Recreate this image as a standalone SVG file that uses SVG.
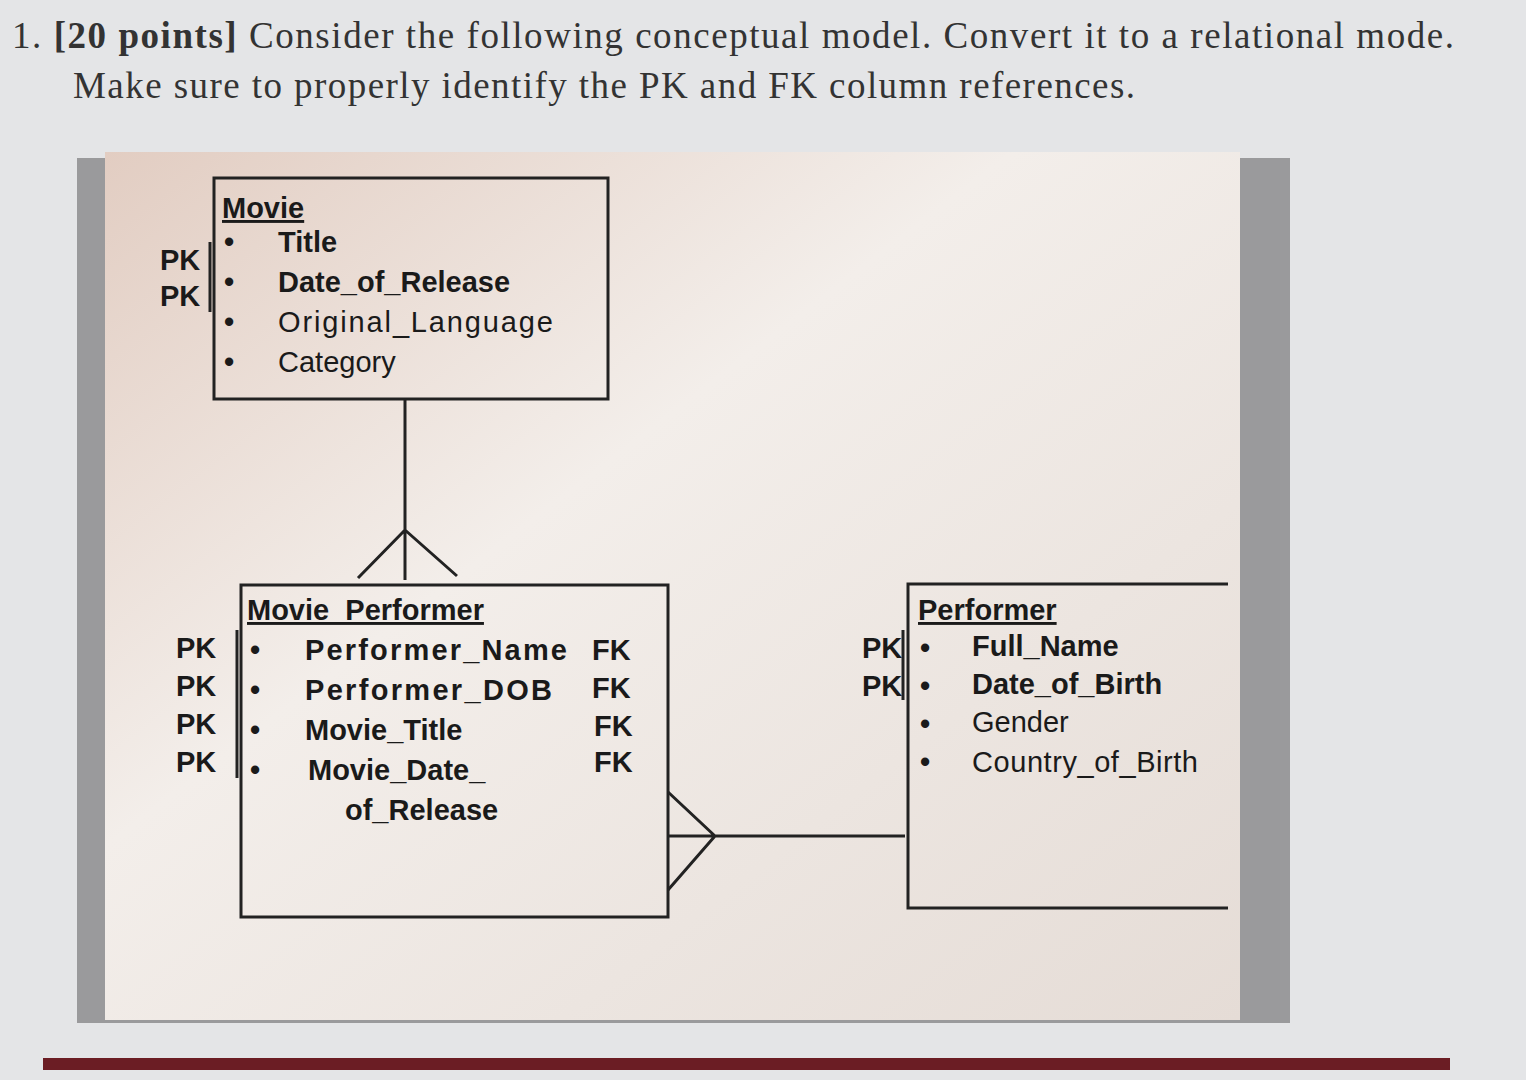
<svg xmlns="http://www.w3.org/2000/svg" width="1526" height="1080" viewBox="0 0 1526 1080">
<defs>
<style>
.q{font-family:"Liberation Serif",serif;font-size:37px;fill:#333}
.t{font-family:"Liberation Sans",Arial,sans-serif;font-size:29px;font-weight:bold;fill:#1a1a1a}
.n{font-weight:normal}
.b{fill:none;stroke:#222;stroke-width:3}
.l{stroke:#222;stroke-width:3;fill:none}
</style>
<linearGradient id="bg" x1="0" y1="0" x2="1" y2="1">
<stop offset="0" stop-color="#e2cdc2"/><stop offset="0.4" stop-color="#f3eeea"/><stop offset="1" stop-color="#e5dcd6"/>
</linearGradient>
</defs>
<rect width="1526" height="1080" fill="#e4e5e7"/>
<text class="q" x="12" y="48" textLength="1442" lengthAdjust="spacing">1.  <tspan font-weight="bold">[20 points]</tspan> Consider the following conceptual model. Convert it to a relational mode.</text>
<text class="q" x="73" y="98" textLength="1062" lengthAdjust="spacing">Make sure to properly identify the PK and FK column references.</text>
<rect x="77" y="158" width="1213" height="865" fill="#9a9a9c"/>
<rect x="105" y="152" width="1135" height="868" fill="url(#bg)"/>
<g id="movie">
<rect class="b" x="214" y="178" width="394" height="221"/>
<text class="t" x="222" y="218" text-decoration="underline">Movie</text>
<text class="t" x="160" y="270">PK</text><text class="t" x="160" y="306">PK</text>
<line class="l" x1="210" y1="242" x2="210" y2="312"/>
<text class="t" x="224" y="252">•</text><text class="t" x="224" y="292">•</text><text class="t" x="224" y="332">•</text><text class="t" x="224" y="372">•</text>
<text class="t" x="278" y="252">Title</text>
<text class="t" x="278" y="292">Date_of_Release</text>
<text class="t n" x="278" y="332" textLength="275">Original_Language</text>
<text class="t n" x="278" y="372">Category</text>
</g>
<g id="movie_performer">
<rect class="b" x="241" y="585" width="427" height="332"/>
<text class="t" x="247" y="620" text-decoration="underline">Movie_Performer</text>
<text class="t" x="176" y="658">PK</text><text class="t" x="176" y="696">PK</text><text class="t" x="176" y="734">PK</text><text class="t" x="176" y="772">PK</text>
<line class="l" x1="237" y1="630" x2="237" y2="778"/>
<text class="t" x="250" y="660">•</text><text class="t" x="250" y="700">•</text><text class="t" x="250" y="740">•</text><text class="t" x="250" y="780">•</text>
<text class="t" x="305" y="660" textLength="262">Performer_Name</text>
<text class="t" x="305" y="700" textLength="247">Performer_DOB</text>
<text class="t" x="305" y="740">Movie_Title</text>
<text class="t" x="308" y="780">Movie_Date_</text>
<text class="t" x="345" y="820">of_Release</text>
<text class="t" x="592" y="660">FK</text><text class="t" x="592" y="698">FK</text><text class="t" x="594" y="736">FK</text><text class="t" x="594" y="772">FK</text>
</g>
<g id="performer">
<path class="b" d="M1228 584 H908 V908 H1228"/>
<text class="t" x="918" y="620" text-decoration="underline">Performer</text>
<text class="t" x="862" y="658">PK</text><text class="t" x="862" y="696">PK</text>
<line class="l" x1="903" y1="630" x2="903" y2="700"/>
<text class="t" x="920" y="658">•</text><text class="t" x="920" y="696">•</text><text class="t" x="920" y="734">•</text><text class="t" x="920" y="772">•</text>
<text class="t" x="972" y="656">Full_Name</text>
<text class="t" x="972" y="694">Date_of_Birth</text>
<text class="t n" x="972" y="732">Gender</text>
<text class="t n" x="972" y="772" textLength="226">Country_of_Birth</text>
</g>
<g id="connectors">
<path class="l" d="M405 399 V580 M405 530 L358 578 M405 530 L457 576"/>
<path class="l" d="M668 836 H905 M715 836 L668 792 M715 836 L668 890"/>
</g>
<rect x="43" y="1058" width="1407" height="12" fill="#6b1d24"/>
</svg>
